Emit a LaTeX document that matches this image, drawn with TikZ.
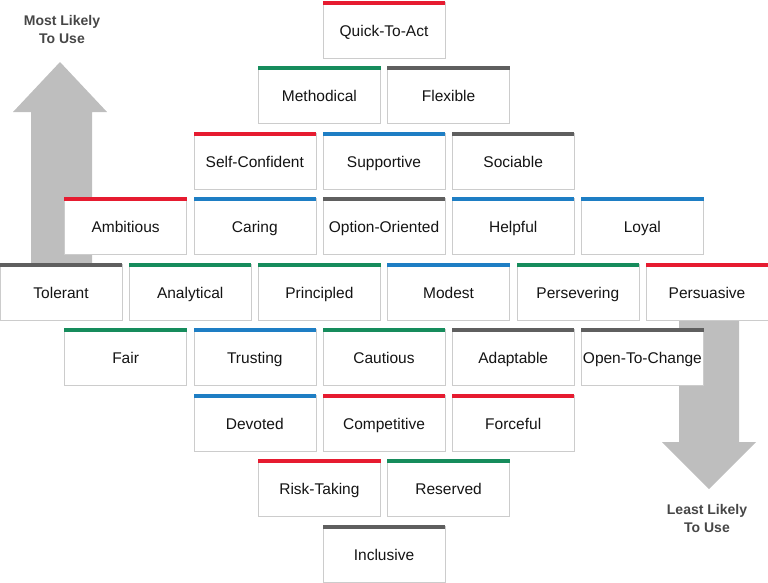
\documentclass[tikz,border=0pt]{standalone}
\usepackage{fontspec}
\setmainfont{Liberation Sans}
\definecolor{cred}{RGB}{230,27,48}
\definecolor{cgreen}{RGB}{22,140,92}
\definecolor{cblue}{RGB}{30,126,196}
\definecolor{cgray}{RGB}{95,95,95}
\definecolor{arrowgray}{RGB}{190,190,190}
\definecolor{labelgray}{RGB}{70,70,70}
\newcommand\traitbox[5]{%
  \node[trait] (#1) at ({61+64.6*#2},{30+65.5*#3}) {#5};
  \fill[#4] ([yshift=1pt]#1.north west) rectangle ([yshift=-3pt]#1.north east);
}
\begin{document}
\begin{tikzpicture}[x=1pt,y=-1pt,
  trait/.style={draw=black!20, line width=0.5pt, fill=white, minimum width=122pt,
    minimum height=56pt, inner sep=0pt, text=black!92,
    text height=13pt, text depth=1pt,
    font=\fontsize{15.5}{17}\selectfont},
  bigarrow/.style={fill=arrowgray, draw=none},
  endlabel/.style={text=labelgray, align=center,
    font=\fontsize{14}{18}\selectfont\bfseries}]
\useasboundingbox (0,0) rectangle (768,582);
% arrows (behind)
\fill[bigarrow] (31,263) -- (31,112) -- (13,112) -- (60,62) -- (107,112) -- (92,112) -- (92,263) -- cycle;
\fill[bigarrow] (679,319) -- (679,442) -- (662,442) -- (709,489) -- (756,442) -- (739,442) -- (739,319) -- cycle;
\node[endlabel] (most) at (62,29) {Most Likely\\To Use};
\node[endlabel] (least) at (707,518) {Least Likely\\To Use};
% row 0
\traitbox{qta}{5}{0}{cred}{Quick-To-Act}
% row 1
\traitbox{meth}{4}{1}{cgreen}{Methodical}
\traitbox{flex}{6}{1}{cgray}{Flexible}
% row 2
\traitbox{selfc}{3}{2}{cred}{Self-Confident}
\traitbox{supp}{5}{2}{cblue}{Supportive}
\traitbox{soci}{7}{2}{cgray}{Sociable}
% row 3
\traitbox{ambi}{1}{3}{cred}{Ambitious}
\traitbox{cari}{3}{3}{cblue}{Caring}
\traitbox{opti}{5}{3}{cgray}{Option-Oriented}
\traitbox{help}{7}{3}{cblue}{Helpful}
\traitbox{loya}{9}{3}{cblue}{Loyal}
% row 4
\traitbox{tole}{0}{4}{cgray}{Tolerant}
\traitbox{anal}{2}{4}{cgreen}{Analytical}
\traitbox{prin}{4}{4}{cgreen}{Principled}
\traitbox{mode}{6}{4}{cblue}{Modest}
\traitbox{pers}{8}{4}{cgreen}{Persevering}
\traitbox{persu}{10}{4}{cred}{Persuasive}
% row 5
\traitbox{fair}{1}{5}{cgreen}{Fair}
\traitbox{trus}{3}{5}{cblue}{Trusting}
\traitbox{caut}{5}{5}{cgreen}{Cautious}
\traitbox{adap}{7}{5}{cgray}{Adaptable}
\traitbox{open}{9}{5}{cgray}{Open-To-Change}
% row 6
\traitbox{devo}{3}{6}{cblue}{Devoted}
\traitbox{comp}{5}{6}{cred}{Competitive}
\traitbox{forc}{7}{6}{cred}{Forceful}
% row 7
\traitbox{risk}{4}{7}{cred}{Risk-Taking}
\traitbox{rese}{6}{7}{cgreen}{Reserved}
% row 8
\traitbox{incl}{5}{8}{cgray}{Inclusive}
\end{tikzpicture}
\end{document}
